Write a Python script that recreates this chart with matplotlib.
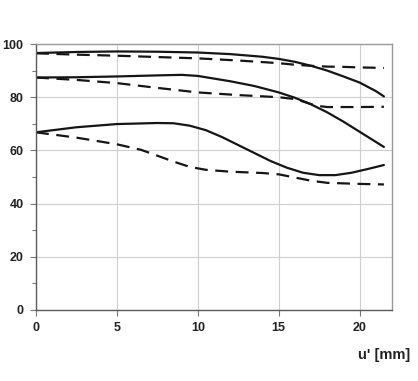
import numpy as np
import matplotlib
matplotlib.use("Agg")
import matplotlib.pyplot as plt
from matplotlib.ticker import MultipleLocator

# values (u' in mm, contrast in %)
x_s1 = [0, 2.5, 5, 7.5, 10, 12, 14, 15, 16, 17, 18, 19, 20, 21, 21.5]
y_s1 = [96.6, 97.0, 97.2, 97.1, 96.8, 96.2, 95.2, 94.4, 93.3, 91.8, 90.0, 87.8, 85.5, 82.3, 80.3]
x_d1 = [0, 2.5, 5, 7.5, 10, 12.5, 15, 16, 17, 18, 19, 20, 21.5]
y_d1 = [96.5, 96.0, 95.6, 95.1, 94.6, 93.8, 92.8, 92.2, 91.8, 91.5, 91.4, 91.2, 91.0]

x_s2 = [0, 2.5, 5, 7.5, 9, 10, 11, 12, 13.5, 15, 16, 17, 18, 19, 20, 21, 21.5]
y_s2 = [87.4, 87.5, 87.8, 88.2, 88.4, 88.0, 87.0, 86.0, 84.2, 81.8, 79.8, 77.3, 74.3, 70.8, 67.0, 63.2, 61.3]
x_d2 = [0, 2.5, 5, 7.5, 10, 12.5, 15, 16, 16.7, 17.3, 18, 20, 21.5]
y_d2 = [87.4, 86.5, 85.3, 83.5, 81.8, 80.8, 80.0, 79.3, 78.0, 76.8, 76.3, 76.3, 76.4]

x_s3 = [0, 2.5, 5, 7.5, 8.5, 9.5, 10.5, 11.5, 12.5, 13.5, 14.5, 15.5, 16.5, 17.5, 18.5, 19.5, 20.5, 21.5]
y_s3 = [66.8, 68.7, 69.9, 70.3, 70.2, 69.3, 67.6, 65.0, 62.0, 59.0, 56.0, 53.5, 51.6, 50.7, 50.7, 51.6, 53.0, 54.5]
x_d3 = [0, 2.5, 5, 6.5, 7.5, 8.5, 9.5, 10.5, 12, 14, 15, 16, 17, 18, 20, 21.5]
y_d3 = [66.8, 64.8, 62.3, 60.2, 58.0, 55.8, 53.8, 52.7, 52.0, 51.5, 51.0, 49.8, 48.6, 47.8, 47.4, 47.2]

x_ticks = [0, 5, 10, 15, 20]
y_ticks = [0, 20, 40, 60, 80, 100]

plt.rcParams['font.family'] = ['Liberation Sans', 'DejaVu Sans']

fig = plt.figure(figsize=(4.18, 3.81), dpi=100)
ax = fig.add_axes([0.0861, 0.1864, 0.8517, 0.6981])

ink = '#151515'
for xs, ys in [(x_s1, y_s1), (x_s2, y_s2), (x_s3, y_s3)]:
    ax.plot(xs, ys, color=ink, lw=1.6, solid_capstyle='round')
for xs, ys in [(x_d1, y_d1), (x_d2, y_d2), (x_d3, y_d3)]:
    ax.plot(xs, ys, color=ink, lw=1.6, dashes=(5.8, 3.4))

ax.set_xlim(0, 22)
ax.set_ylim(0, 100)
ax.set_xticks(x_ticks)
ax.set_yticks(y_ticks)
ax.yaxis.set_minor_locator(MultipleLocator(10))
ax.grid(True, which='major', color='#cfcfcf', lw=0.8)
ax.set_axisbelow(True)

for side in ['left', 'bottom']:
    ax.spines[side].set_color('#5a5a5a')
    ax.spines[side].set_linewidth(1.0)
for side in ['right', 'top']:
    ax.spines[side].set_color('#9a9a9a')
    ax.spines[side].set_linewidth(1.0)

ax.tick_params(axis='both', which='major', length=4, width=0.8, color='#777777',
               labelsize=9, pad=5)
ax.tick_params(axis='y', which='minor', length=3, width=0.8, color='#777777')
for lab in ax.get_xticklabels() + ax.get_yticklabels():
    lab.set_fontweight('bold')
    lab.set_color('#222222')

fig.text(0.982, 0.068, "u' [mm]", ha='right', va='center', fontsize=10.5,
         fontweight='bold', color='#222222')

fig.savefig('out.png', dpi=100)
